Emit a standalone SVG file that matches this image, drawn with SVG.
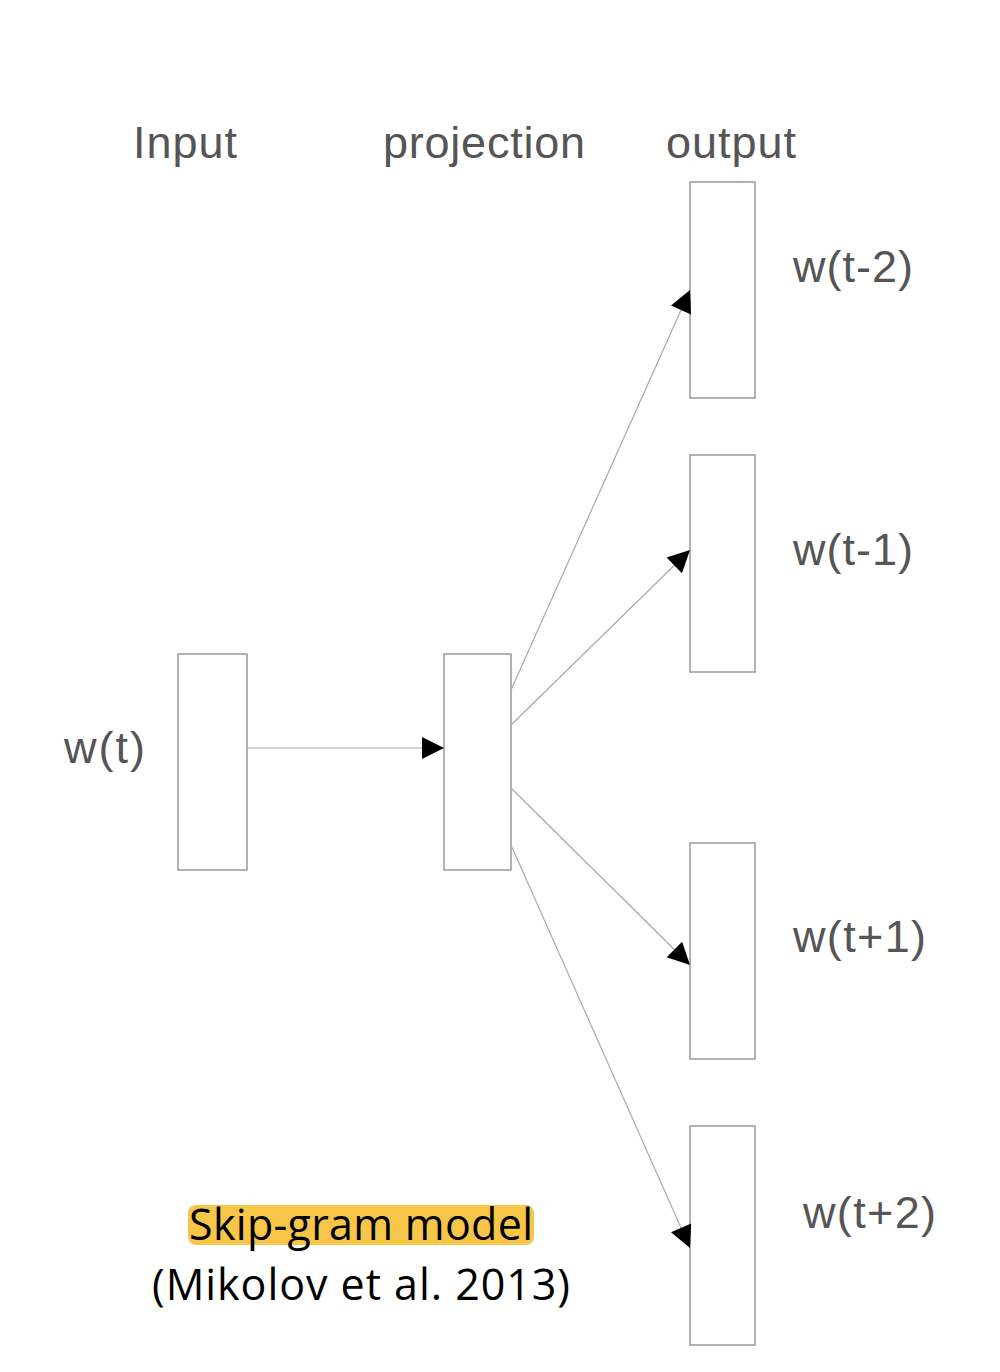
<svg xmlns="http://www.w3.org/2000/svg" width="1000" height="1372" viewBox="0 0 1000 1372">
<style>
.box{fill:#fff;stroke:#999;stroke-width:1.5}
.lbl{font-family:"Liberation Sans",Arial,sans-serif;font-size:45px;fill:#555}
.cap{font-family:"Open Sans","Liberation Sans",sans-serif;font-size:43px;fill:#000}
.ln{stroke:#aaa;stroke-width:1.2;fill:none;marker-end:url(#ah)}
</style>
<defs><marker id="ah" viewBox="0 0 10 10" refX="10" refY="5" markerWidth="34" markerHeight="22" markerUnits="userSpaceOnUse" orient="auto"><path d="M0,0 L10,5 L0,10 Z" fill="#000"/></marker></defs>
<rect width="1000" height="1372" fill="#fff"/>
<text class="lbl" x="133" y="158" textLength="104">Input</text>
<text class="lbl" x="383" y="158" textLength="202">projection</text>
<text class="lbl" x="666" y="158" textLength="130">output</text>
<g id="input"><rect class="box" x="178" y="654" width="69" height="216"/><text class="lbl" x="64" y="763" textLength="81">w(t)</text></g>
<g id="projection"><rect class="box" x="444" y="654" width="67" height="216"/></g>
<g id="o1"><rect class="box" x="690" y="182" width="65" height="216"/><text class="lbl" x="793" y="282" textLength="120">w(t-2)</text></g>
<g id="o2"><rect class="box" x="690" y="455" width="65" height="217"/><text class="lbl" x="793" y="565" textLength="120">w(t-1)</text></g>
<g id="o3"><rect class="box" x="690" y="843" width="65" height="216"/><text class="lbl" x="793" y="952" textLength="133">w(t+1)</text></g>
<g id="o4"><rect class="box" x="690" y="1126" width="65" height="219"/><text class="lbl" x="803" y="1228" textLength="133">w(t+2)</text></g>
<g id="connectors">
<line class="ln" x1="247" y1="748" x2="444" y2="748"/>
<line class="ln" x1="511" y1="690" x2="690" y2="290"/>
<line class="ln" x1="511" y1="725" x2="690" y2="550"/>
<line class="ln" x1="511" y1="788" x2="690" y2="965"/>
<line class="ln" x1="511" y1="845" x2="690" y2="1248"/>
</g>
<g id="caption">
<rect x="188" y="1205" width="346" height="40" rx="8" fill="#f7c548"/>
<text class="cap" x="361" y="1240" text-anchor="middle" textLength="344">Skip-gram model</text>
<text class="cap" x="361" y="1300" text-anchor="middle" textLength="418">(Mikolov et al. 2013)</text>
</g>
</svg>
